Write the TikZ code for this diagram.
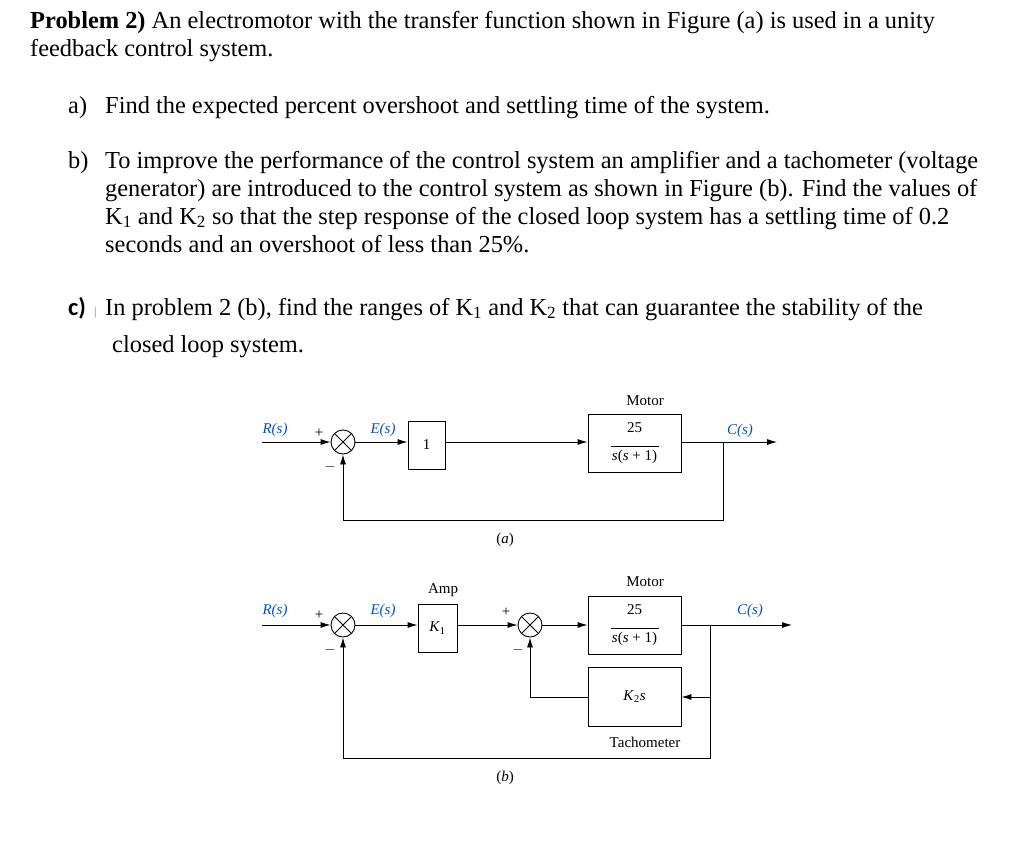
\documentclass[tikz,border=0pt]{standalone}
\usepackage{fontspec}
\setmainfont{Liberation Serif}
\newfontfamily\carl{Carlito}
\usetikzlibrary{arrows.meta}
\newcommand{\tfrac}[2]{\begin{tabular}{@{}c@{}}#1\\[-3pt]\rule{48pt}{0.6pt}\\[-3pt]#2\end{tabular}}
\begin{document}
\begin{tikzpicture}[x=1pt,y=-1pt,
  txt/.style={anchor=base west,inner sep=0pt,font=\fontsize{24.4}{28}\selectfont},
  blk/.style={draw,line width=0.9pt,minimum width=#1,inner sep=0pt},
  sumj/.style={draw,line width=0.9pt,circle,minimum size=24pt,inner sep=0pt,
    path picture={\draw[line width=0.9pt] (path picture bounding box.north west)--(path picture bounding box.south east)
      (path picture bounding box.north east)--(path picture bounding box.south west);}},
  lab/.style={font=\fontsize{15}{17}\selectfont,inner sep=0pt},
  sig/.style={font=\fontsize{15}{17}\selectfont\itshape,inner sep=0pt,text=blue!60!cyan!80!black},
  ar/.style={line width=0.9pt,-{Latex[length=10pt,width=6pt]}}]
\useasboundingbox (0,0) rectangle (1024,846);
\node[txt] (t1) at (30,28) {\textbf{Problem 2)} An electromotor with the transfer function shown in Figure (a) is used in a unity};
\node[txt] (t2) at (30,56) {feedback control system.};
\node[txt] (la) at (68,113) {a)};
\node[txt] (ta) at (105,113) {Find the expected percent overshoot and settling time of the system.};
\node[txt] (lb) at (68,168) {b)};
\node[txt] (tb) at (105,168) {To improve the performance of the control system an amplifier and a tachometer (voltage};
\node[txt] (tb2) at (105,196) {generator) are introduced to the control system as shown in Figure (b). Find the values of};
\node[txt] (tb3) at (105,224) {K\textsubscript{1} and K\textsubscript{2} so that the step response of the closed loop system has a settling time of 0.2};
\node[txt] (tb4) at (105,252) {seconds and an overshoot of less than 25\%.};
\node[txt] (lc) at (68,315) {{\carl\bfseries c)}\hspace{8pt}{\color{gray}\fontsize{12}{12}\selectfont|}};
\node[txt] (tc) at (105,315) {In problem 2 (b), find the ranges of K\textsubscript{1} and K\textsubscript{2} that can guarantee the stability of the};
\node[txt] (tc2) at (112,352) {closed loop system.};
% (a)
\node[sumj] (s1) at (343,442) {};
\node[blk=37pt,minimum height=48pt] (g1) at (426.5,445) {\fontsize{15}{17}\selectfont 1};
\node[blk=93pt,minimum height=58pt] (m1) at (634.5,443) {\fontsize{15}{17}\selectfont\tfrac{25}{\textit{s}(\textit{s} + 1)}};
\node[lab] at (645,401) {Motor};
\coordinate (ra) at (262,442);
\coordinate (ca) at (777,442);
\coordinate (ba) at (723,442);
\draw[ar] (ra) -- (s1);
\draw[ar] (s1) -- (g1.west|-s1);
\draw[ar] (g1.east|-s1) -- (m1.west|-s1);
\draw[ar] (m1.east|-s1) -- (ca);
\draw[ar] (ba) -- (723,520) -- (343,520) -- (s1.south);
\node[sig] at (275,430) {R(s)};
\node[sig] at (383,430) {E(s)};
\node[sig] at (740,431) {C(s)};
\node[lab] at (319,433) {+};
\node[lab] at (330,467) {$-$};
\node[lab] at (505,540) {(\textit{a})};
% (b)
\node[sumj] (s2) at (343,625) {};
\node[blk=39pt,minimum height=48pt] (amp) at (437.5,628) {\fontsize{15}{17}\selectfont\textit{K}\textsubscript{1}};
\node[lab] at (443,590) {Amp};
\node[sumj] (s3) at (530,625) {};
\node[blk=93pt,minimum height=58pt] (m2) at (634.5,625) {\fontsize{15}{17}\selectfont\tfrac{25}{\textit{s}(\textit{s} + 1)}};
\node[lab] at (645,582) {Motor};
\node[blk=93pt,minimum height=59pt] (tach) at (634.5,696.5) {\fontsize{15}{17}\selectfont\textit{K}\textsubscript{2}\textit{s}};
\node[lab] at (645,742) {Tachometer};
\coordinate (rb) at (262,625);
\coordinate (cb) at (792,625);
\coordinate (bb) at (710,625);
\draw[ar] (rb) -- (s2);
\draw[ar] (s2) -- (amp.west|-s2);
\draw[ar] (amp.east|-s2) -- (s3);
\draw[ar] (s3) -- (m2.west|-s3);
\draw[ar] (m2.east|-s3) -- (cb);
\draw[ar] (bb) -- (710,697) -- (tach.east|-0,697);
\draw[ar] (tach.west|-0,697) -- (530,697) -- (s3.south);
\draw[ar] (bb) -- (710,758) -- (343,758) -- (s2.south);
\node[sig] at (275,611) {R(s)};
\node[sig] at (383,611) {E(s)};
\node[sig] at (750,611) {C(s)};
\node[lab] at (319,615) {+};
\node[lab] at (330,650) {$-$};
\node[lab] at (506,612) {+};
\node[lab] at (518,650) {$-$};
\node[lab] at (505,778) {(\textit{b})};
\end{tikzpicture}
\end{document}
